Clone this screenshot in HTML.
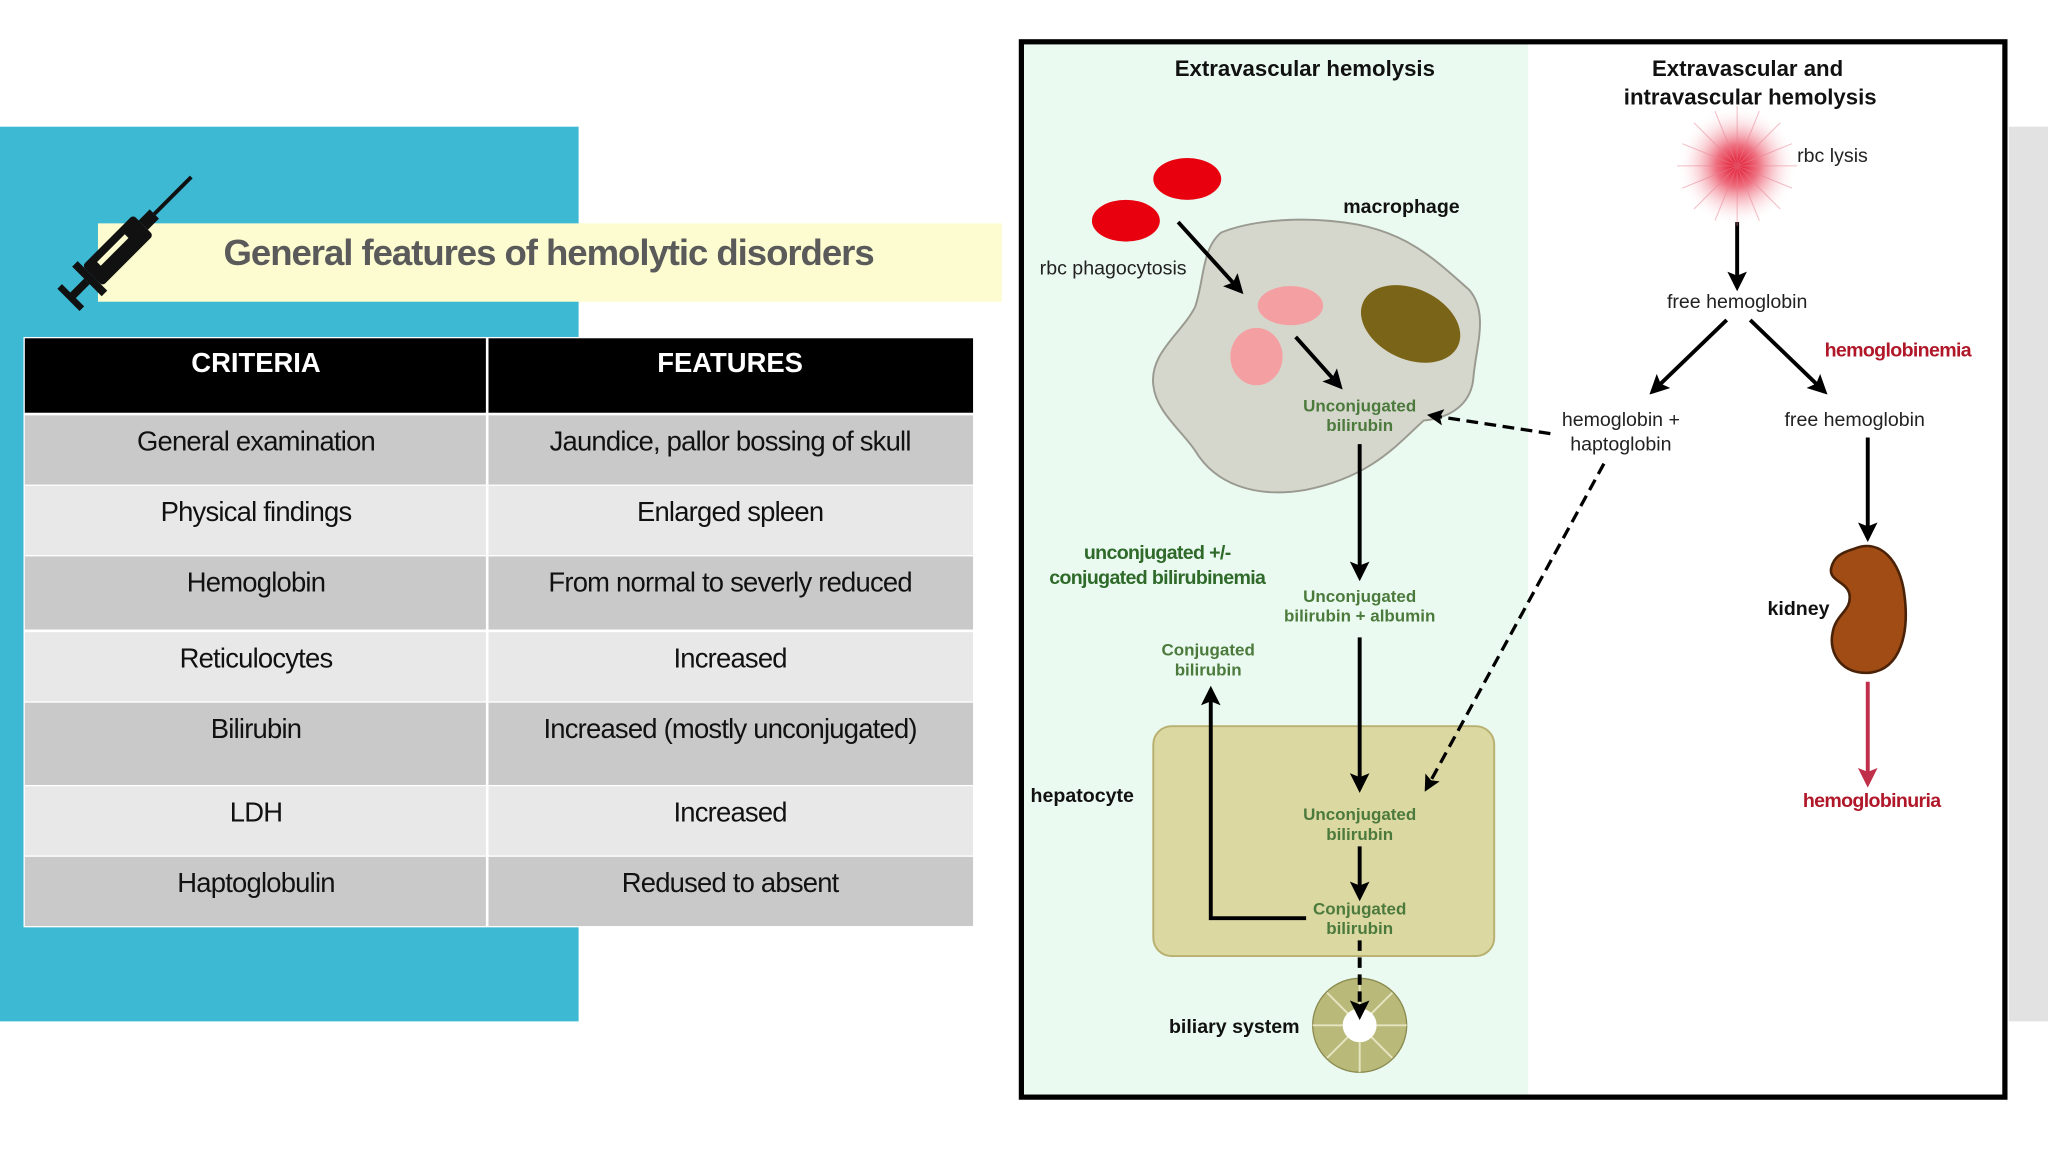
<!DOCTYPE html>
<html><head><meta charset="utf-8"><style>
html,body{margin:0;padding:0;background:#fff;width:2048px;height:1152px;overflow:hidden}
svg{display:block}
text{font-family:"Liberation Sans","DejaVu Sans",sans-serif}
</style></head><body>
<svg width="2048" height="1152" viewBox="0 0 1568 882" xmlns="http://www.w3.org/2000/svg">
<defs>
<marker id="ah" viewBox="0 0 10 10" refX="8" refY="5" markerWidth="5" markerHeight="5" orient="auto"><path d="M0,0 L10,5 L0,10 L2,5 z" fill="#000"/></marker>
<marker id="ahr" viewBox="0 0 10 10" refX="8" refY="5" markerWidth="5" markerHeight="5" orient="auto"><path d="M0,0 L10,5 L0,10 L2,5 z" fill="#c0304a"/></marker>
<radialGradient id="burst" cx="50%" cy="50%" r="50%"><stop offset="0" stop-color="#e0102a"/><stop offset="0.35" stop-color="#ee7080"/><stop offset="1" stop-color="#fff" stop-opacity="0"/></radialGradient>
</defs>
<rect x="0" y="97" width="443" height="685" fill="#3db9d3"/>
<rect x="1538" y="97" width="30" height="685" fill="#e2e2e2"/>
<rect x="75" y="171" width="692" height="60" fill="#fcfcd0"/>
<text x="420" y="203" font-size="28" font-weight="bold" fill="#5a5a5a" text-anchor="middle" letter-spacing="-0.8">General features of hemolytic disorders</text>
<g transform="translate(92,190) rotate(-45)" fill="#111">
<rect x="-30" y="-11" width="55" height="22" rx="3"/>
<rect x="25" y="-5" width="12" height="10"/>
<rect x="37" y="-1.5" width="40" height="3"/>
<rect x="-36" y="-16" width="6" height="32"/>
<rect x="-52" y="-3" width="16" height="6"/>
<rect x="-56" y="-12" width="5" height="24"/>
<rect x="-20" y="-5" width="30" height="4" fill="#fcfcd0"/>
</g>
<rect x="18" y="258" width="727" height="452" fill="#fff"/>
<rect x="19" y="259" width="353" height="57" fill="#000"/><rect x="374" y="259" width="371" height="57" fill="#000"/>
<text x="196" y="285" font-size="21" font-weight="bold" fill="#fff" text-anchor="middle">CRITERIA</text>
<text x="559" y="285" font-size="21" font-weight="bold" fill="#fff" text-anchor="middle">FEATURES</text>
<g font-size="21" fill="#111" text-anchor="middle" letter-spacing="-0.6">
<rect x="19" y="318" width="353" height="53" fill="#c9c9c9"/><rect x="374" y="318" width="371" height="53" fill="#c9c9c9"/>
<text x="196" y="345">General examination</text><text x="559" y="345">Jaundice, pallor bossing of skull</text>
<rect x="19" y="372" width="353" height="53" fill="#e8e8e8"/><rect x="374" y="372" width="371" height="53" fill="#e8e8e8"/>
<text x="196" y="399">Physical findings</text><text x="559" y="399">Enlarged spleen</text>
<rect x="19" y="426" width="353" height="56" fill="#c9c9c9"/><rect x="374" y="426" width="371" height="56" fill="#c9c9c9"/>
<text x="196" y="453">Hemoglobin</text><text x="559" y="453">From normal to severly reduced</text>
<rect x="19" y="484" width="353" height="53" fill="#e8e8e8"/><rect x="374" y="484" width="371" height="53" fill="#e8e8e8"/>
<text x="196" y="511">Reticulocytes</text><text x="559" y="511">Increased</text>
<rect x="19" y="538" width="353" height="63" fill="#c9c9c9"/><rect x="374" y="538" width="371" height="63" fill="#c9c9c9"/>
<text x="196" y="565">Bilirubin</text><text x="559" y="565">Increased (mostly unconjugated)</text>
<rect x="19" y="602" width="353" height="53" fill="#e8e8e8"/><rect x="374" y="602" width="371" height="53" fill="#e8e8e8"/>
<text x="196" y="629">LDH</text><text x="559" y="629">Increased</text>
<rect x="19" y="656" width="353" height="53" fill="#c9c9c9"/><rect x="374" y="656" width="371" height="53" fill="#c9c9c9"/>
<text x="196" y="683">Haptoglobulin</text><text x="559" y="683">Redused to absent</text>
</g>
<rect x="782" y="32" width="753" height="808" fill="#fff"/>
<rect x="784" y="34" width="386" height="804" fill="#eafaf0"/>
<rect x="782" y="32" width="753" height="808" fill="none" stroke="#000" stroke-width="4"/>
<g font-size="17" font-weight="bold" fill="#111" text-anchor="middle">
<text x="999" y="58">Extravascular hemolysis</text>
<text x="1338" y="58">Extravascular and</text>
<text x="1340" y="80">intravascular hemolysis</text>
</g>
<ellipse cx="909" cy="137" rx="26" ry="16" fill="#e8000f"/>
<ellipse cx="862" cy="169" rx="26" ry="16" fill="#e8000f"/>
<path d="M935,178 C960,168 1000,165 1040,172 C1080,180 1100,200 1125,222 C1140,240 1130,265 1128,290 C1126,310 1110,320 1090,322 C1070,340 1050,365 1000,375 C960,382 930,370 915,345 C905,330 885,315 883,295 C880,270 905,255 915,235 C922,215 920,190 935,178 Z" fill="#d6d7cc" stroke="#9a9a90" stroke-width="1.5"/>
<ellipse cx="988" cy="234" rx="25" ry="15" fill="#f4a0a2"/>
<ellipse cx="962" cy="273" rx="20" ry="22" fill="#f4a0a2"/>
<ellipse cx="1080" cy="248" rx="40" ry="27" transform="rotate(25 1080 248)" fill="#7a6418"/>
<text x="796" y="210" font-size="15" fill="#222">rbc phagocytosis</text>
<text x="1073" y="163" font-size="15" font-weight="bold" fill="#111" text-anchor="middle">macrophage</text>
<rect x="883" y="556" width="261" height="176" rx="14" fill="#dcd8a2" stroke="#b8b070" stroke-width="1.5"/>
<circle cx="1041" cy="785" r="36" fill="#b9b97a" stroke="#8a8a50" stroke-width="1"/>
<g stroke="#e5e5c0" stroke-width="1.5">
<line x1="1041" y1="749" x2="1041" y2="772"/><line x1="1041" y1="798" x2="1041" y2="821"/>
<line x1="1005" y1="785" x2="1028" y2="785"/><line x1="1054" y1="785" x2="1077" y2="785"/>
<line x1="1016" y1="760" x2="1032" y2="776"/><line x1="1050" y1="794" x2="1066" y2="810"/>
<line x1="1066" y1="760" x2="1050" y2="776"/><line x1="1032" y1="794" x2="1016" y2="810"/>
</g>
<circle cx="1041" cy="785" r="13" fill="#fff"/>
<g stroke="#000" stroke-width="3" fill="none" marker-end="url(#ah)">
<line x1="902" y1="170" x2="950" y2="223"/>
<line x1="992" y1="258" x2="1026" y2="296"/>
<line x1="1041" y1="340" x2="1041" y2="442"/>
<line x1="1041" y1="488" x2="1041" y2="604"/>
<line x1="1041" y1="648" x2="1041" y2="687"/>
<polyline points="1000,703 927,703 927,528"/>
<line x1="1330" y1="170" x2="1330" y2="220"/>
<line x1="1322" y1="245" x2="1265" y2="300"/>
<line x1="1340" y1="245" x2="1397" y2="300"/>
<line x1="1430" y1="335" x2="1430" y2="412"/>
</g>
<g stroke="#000" stroke-width="2.5" fill="none" stroke-dasharray="9,5" marker-end="url(#ah)">
<line x1="1187" y1="332" x2="1095" y2="318"/>
<line x1="1228" y1="355" x2="1092" y2="604"/>
</g>
<line x1="1041" y1="720" x2="1041" y2="778" stroke="#000" stroke-width="3" stroke-dasharray="8,5" marker-end="url(#ah)"/>
<g font-size="13" font-weight="bold" fill="#4b7a3c" text-anchor="middle">
<text x="1041" y="315">Unconjugated</text><text x="1041" y="330">bilirubin</text>
<text x="1041" y="461">Unconjugated</text><text x="1041" y="476">bilirubin + albumin</text>
<text x="925" y="502">Conjugated</text><text x="925" y="517">bilirubin</text>
<text x="1041" y="628">Unconjugated</text><text x="1041" y="643">bilirubin</text>
<text x="1041" y="700">Conjugated</text><text x="1041" y="715">bilirubin</text>
</g>
<g font-size="15" font-weight="bold" fill="#2f6a2a" text-anchor="middle" letter-spacing="-0.5">
<text x="886" y="428">unconjugated +/-</text><text x="886" y="447">conjugated bilirubinemia</text>
</g>
<g font-size="15" font-weight="bold" fill="#111">
<text x="789" y="614">hepatocyte</text>
<text x="945" y="791" text-anchor="middle">biliary system</text>
<text x="1377" y="471" text-anchor="middle">kidney</text>
</g>
<circle cx="1330" cy="127" r="46" fill="url(#burst)"/>
<g stroke="#e88090" stroke-width="0.8" opacity="0.5">
<line x1="1284" y1="127" x2="1376" y2="127"/><line x1="1330" y1="81" x2="1330" y2="173"/>
<line x1="1297" y1="94" x2="1363" y2="160"/><line x1="1363" y1="94" x2="1297" y2="160"/>
<line x1="1288" y1="110" x2="1372" y2="144"/><line x1="1288" y1="144" x2="1372" y2="110"/>
<line x1="1313" y1="85" x2="1347" y2="169"/><line x1="1347" y1="85" x2="1313" y2="169"/>
</g>
<g font-size="15" fill="#222" text-anchor="middle">
<text x="1403" y="124">rbc lysis</text>
<text x="1330" y="236">free hemoglobin</text>
<text x="1241" y="326">hemoglobin +</text><text x="1241" y="345">haptoglobin</text>
<text x="1420" y="326">free hemoglobin</text>
</g>
<g font-size="15" font-weight="bold" fill="#b0182a" text-anchor="middle" letter-spacing="-0.5">
<text x="1453" y="273">hemoglobinemia</text>
<text x="1433" y="618">hemoglobinuria</text>
</g>
<path d="M1420,420 C1440,412 1455,430 1458,455 C1462,485 1455,512 1432,515 C1410,517 1400,500 1403,485 C1405,470 1418,468 1416,455 C1414,445 1400,445 1402,435 C1404,426 1410,423 1420,420 Z" fill="#a04c14" stroke="#4a2208" stroke-width="2"/>
<line x1="1430" y1="522" x2="1430" y2="600" stroke="#c0304a" stroke-width="3" marker-end="url(#ahr)"/>
</svg>
</body></html>
